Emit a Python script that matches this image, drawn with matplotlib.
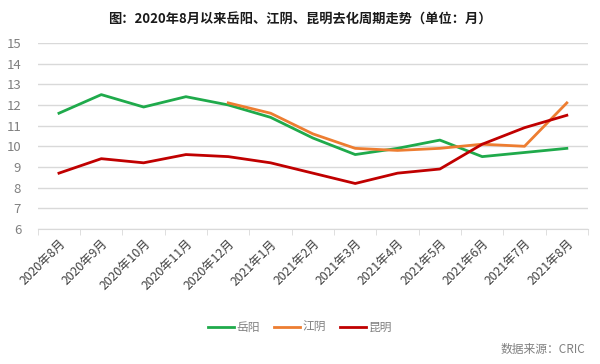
import matplotlib
matplotlib.use("Agg")
import matplotlib.pyplot as plt
import numpy as np

plt.rcParams['font.family'] = ['Noto Sans CJK SC', 'DejaVu Sans']

months = ["2020年8月", "2020年9月", "2020年10月", "2020年11月", "2020年12月",
          "2021年1月", "2021年2月", "2021年3月", "2021年4月", "2021年5月",
          "2021年6月", "2021年7月", "2021年8月"]
yueyang = [11.6, 12.5, 11.9, 12.4, 12.0, 11.4, 10.4, 9.6, 9.9, 10.3, 9.5, 9.7, 9.9]
jiangyin = [np.nan, np.nan, np.nan, np.nan, 12.1, 11.6, 10.6, 9.9, 9.8, 9.9, 10.1, 10.0, 12.1]
kunming = [8.7, 9.4, 9.2, 9.6, 9.5, 9.2, 8.7, 8.2, 8.7, 8.9, 10.1, 10.9, 11.5]

fig = plt.figure(figsize=(6, 3.64), dpi=100)
ax = fig.add_axes([0.063, 0.371, 0.917, 0.511])

x = np.arange(len(months))
ax.plot(x, yueyang, color="#1faa4b", lw=2.0, label="岳阳")
ax.plot(x, jiangyin, color="#ed7d31", lw=2.0, label="江阴")
ax.plot(x, kunming, color="#c00000", lw=2.0, label="昆明")

ax.set_ylim(6, 15)
ax.set_yticks(range(6, 16))
ax.set_xlim(-0.5, len(months) - 0.5)
ax.set_xticks(x)
ax.set_xticklabels(months, rotation=45, ha="right", rotation_mode="anchor",
                   fontsize=8.8, color="#404040")
ax.set_xticks(np.arange(-0.5, len(months)), minor=True)
ax.tick_params(axis="x", which="major", length=0, pad=6)
ax.tick_params(axis="x", which="minor", length=4, color="#d9d9d9")
ax.tick_params(axis="y", length=0, labelsize=9.5, labelcolor="#808080", pad=12)

ax.grid(axis="y", color="#d9d9d9", lw=1)
ax.set_axisbelow(True)
for s in ["top", "right", "left"]:
    ax.spines[s].set_visible(False)
ax.spines["bottom"].set_color("#d9d9d9")

fig.text(0.5, 0.945, "图：2020年8月以来岳阳、江阴、昆明去化周期走势（单位：月）",
         ha="center", va="center", fontsize=9.5, fontweight="bold", color="#1a1a1a")

fig.legend(loc="center", bbox_to_anchor=(0.5, 0.1), ncol=3, frameon=False,
           fontsize=8.5, labelcolor="#808080", handlelength=2.2,
           handletextpad=0.2, columnspacing=1.2)

fig.text(0.975, 0.04, "数据来源：CRIC", ha="right", va="center",
         fontsize=8.5, color="#808080")

fig.savefig("out.png", dpi=100)
